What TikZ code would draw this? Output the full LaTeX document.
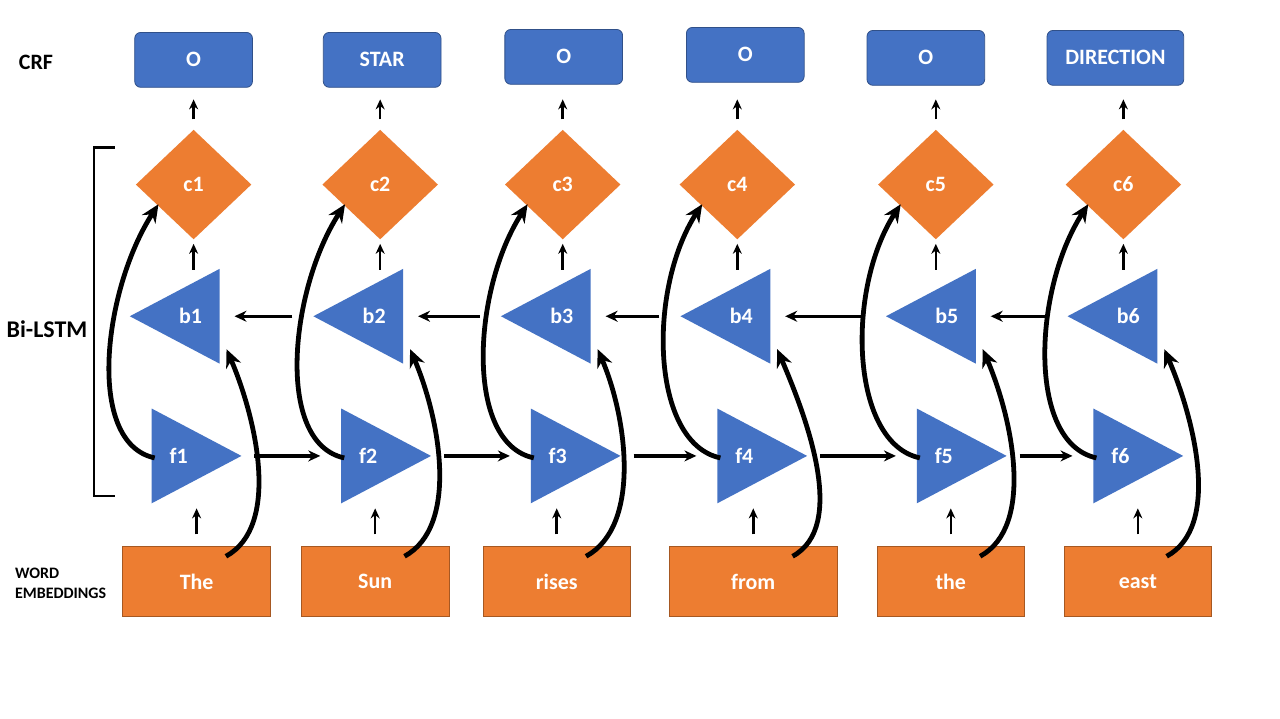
\documentclass[tikz,border=0pt]{standalone}
\usepackage{fontspec}
\setmainfont{Carlito}
\usetikzlibrary{shapes.geometric,arrows.meta,calc}
\definecolor{bl}{HTML}{4472C4}
\definecolor{orr}{HTML}{ED7D31}
\begin{document}
\begin{tikzpicture}[x=0.5pt,y=-0.5pt,font=\bfseries\fontsize{11}{13}\selectfont,
 crf/.style={draw=bl!70!black,fill=bl,rounded corners=3pt,text=white,minimum height=27.5pt,inner sep=0},
 dia/.style={diamond,fill=orr,text=white,minimum width=58pt,minimum height=55pt,inner sep=0},
 tri/.style={isosceles triangle,isosceles triangle stretches,fill=bl,text=white,minimum width=47.5pt,minimum height=45pt,inner sep=0},
 wb/.style={fill=orr,draw=orr!70!black,text=white,minimum height=35pt,inner sep=0},
 ar/.style={-{Stealth[length=5pt,width=4.5pt]},line width=1.3pt},
 har/.style={-{Stealth[length=6pt,width=5.5pt]},line width=1.6pt},
 cur/.style={-{Stealth[length=9pt,width=8pt]},line width=2.4pt},
 lab/.style={text=black}]
\fill[white] (0,0) rectangle (1280,720);
\foreach \i/\cx/\cy/\cw/\ct/\dx/\bt/\ft/\wl/\wr/\wt in {
 1/191/60/118/O/191/126/148/120/268/The,
 2/380/60/118/STAR/378/310/338/299/447/Sun,
 3/562/57/118/O/561/498/528/481/629/rises,
 4/744/55/118/O/736/678/715/668/836/from,
 5/925/58/118/O/935/884/915/876/1024/the,
 6/1115/58/137/DIRECTION/1123/1066/1092/1064/1211/east}{
 \node[crf,minimum width=\cw*0.5pt] (crf\i) at (\cx,\cy) {\ct};
 \node[dia] (c\i) at (\dx,185) {c\i};
 \node[tri,shape border rotate=180,anchor=apex] (b\i) at (\bt,317) {};
 \node[text=white] (bl\i) at ($(\bt,317)+(62,0)$) {b\i};
 \node[tri,anchor=apex] (f\i) at ({\ft+92},457) {};
 \node[text=white] (fl\i) at ($(\ft,457)+(28,0)$) {f\i};
 \node[wb,minimum width={(\wr-\wl)*0.5pt}] (w\i) at ({(\wl+\wr)/2},583) {\wt};
 \draw[ar] ($(w\i.north)+(0,-12)$) -- +(0,-26);
 \draw[ar] ($(c\i.north)+(0,-10)$) -- +(0,-20);
 \draw[ar] ($(c\i.south)+(0,30)$) -- +(0,-26);
 \draw[cur] ($(f\i.apex)+(-88,2)$) .. controls +(-70,-15) and +(-55,85) .. ($(c\i.west)!0.5!(c\i.south)+(-6,-8)$);
 \draw[cur] ($(w\i.north east)+(-45,10)$) .. controls +(55,-30) and +(30,70) .. ($(b\i.apex)+(98,33)$);
}
\foreach \a/\b in {1/2,2/3,3/4,4/5,5/6}{
 \draw[har] ($(f\a.apex)+(12,0)$) -- ($(f\b.apex)+(-112,0)$);
 \draw[har] ($(b\b.apex)+(-20,0)$) -- ($(b\a.apex)+(106,0)$);
}
\node[lab] at (33,63) {CRF};
\node[lab,font=\bfseries\fontsize{12}{14}\selectfont] at (44,330) {Bi-LSTM};
\node[lab,font=\bfseries\fontsize{8}{10}\selectfont,align=left,anchor=west] at (5,585) {WORD\\EMBEDDINGS};
\draw[line width=1.3pt] (112,148) -- (91,148) -- (91,497) -- (112,497);
\end{tikzpicture}
\end{document}
